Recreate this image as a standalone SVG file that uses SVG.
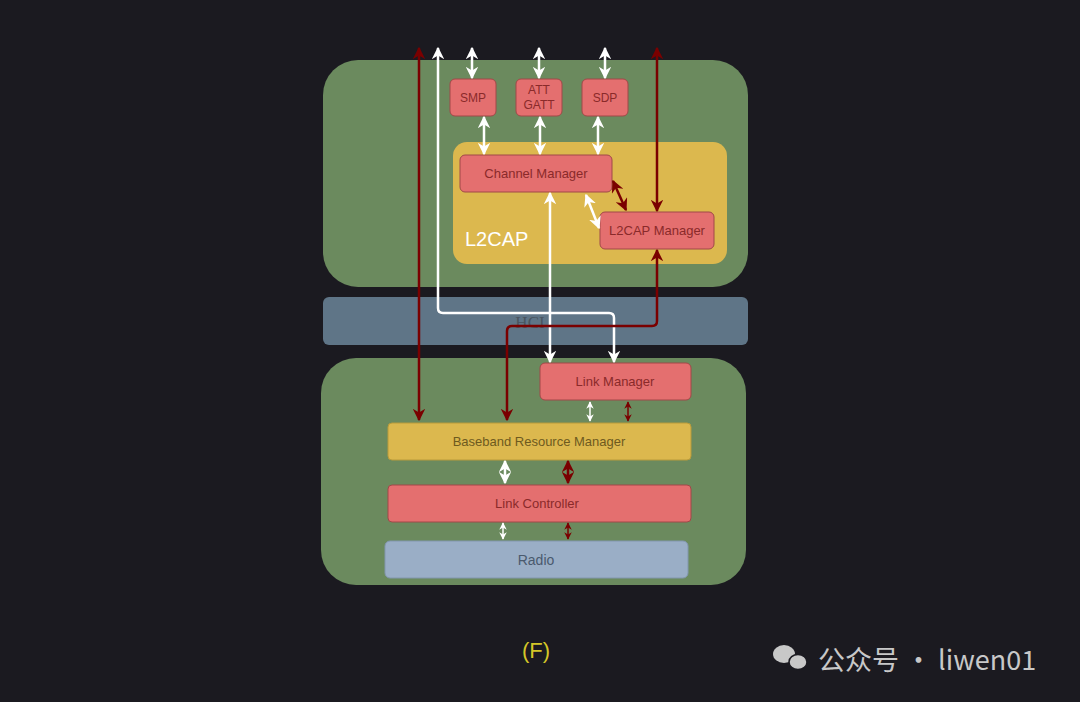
<svg xmlns="http://www.w3.org/2000/svg" width="1080" height="702" viewBox="0 0 1080 702">
<style>
.grn{fill:#6b8a5e}
.red{fill:#e46f6f;stroke:#a04848;stroke-width:1}
.ylw{fill:#dcb84e;stroke:#b89a3a;stroke-width:1}
.t{font-family:"Liberation Sans",Arial,sans-serif;font-size:13px;fill:#8a2a2a;text-anchor:middle;dominant-baseline:central}
.s{font-size:12px}
.w{stroke:#fff;fill:none;stroke-width:2.5}
.d{stroke:#7a0000;fill:none;stroke-width:2.5}
.ws{stroke:#fff;fill:none;stroke-width:1.5}
.ds{stroke:#7a0000;fill:none;stroke-width:1.5}
</style>
<defs>
<marker id="aw" viewBox="0 0 10 10" refX="9" refY="5" markerWidth="5" markerHeight="5" orient="auto-start-reverse" markerUnits="strokeWidth"><path d="M0,0L10,5L0,10L3,5z" fill="#fff"/></marker>
<marker id="ad" viewBox="0 0 10 10" refX="9" refY="5" markerWidth="5" markerHeight="5" orient="auto-start-reverse" markerUnits="strokeWidth"><path d="M0,0L10,5L0,10L3,5z" fill="#7a0000"/></marker>
<marker id="aws" viewBox="0 0 10 10" refX="9" refY="5" markerWidth="5" markerHeight="5" orient="auto-start-reverse" markerUnits="strokeWidth"><path d="M0,0L10,5L0,10L3,5z" fill="#fff"/></marker>
<marker id="ads" viewBox="0 0 10 10" refX="9" refY="5" markerWidth="5" markerHeight="5" orient="auto-start-reverse" markerUnits="strokeWidth"><path d="M0,0L10,5L0,10L3,5z" fill="#7a0000"/></marker>
</defs>
<rect width="1080" height="702" fill="#1b1a20"/>
<g id="host"><rect x="323" y="60" width="425" height="227" rx="35" class="grn"/></g>
<g id="hci"><rect x="323" y="297" width="425" height="48" rx="6" fill="#5f7587"/><text x="530" y="322" font-family="Liberation Serif,serif" font-size="17" fill="#4a5560" text-anchor="middle" dominant-baseline="central">HCI</text></g>
<g id="controller"><rect x="321" y="358" width="425" height="227" rx="35" class="grn"/></g>
<g id="l2cap"><rect x="453" y="142" width="274" height="122" rx="14" fill="#dcb84e"/><text x="465" y="239" font-family="Liberation Sans,Arial,sans-serif" font-size="20" fill="#fff" dominant-baseline="central">L2CAP</text></g>
<g id="smp"><rect x="450" y="79" width="46" height="37" rx="5" class="red"/><text x="473" y="97.5" class="t s">SMP</text></g>
<g id="att"><rect x="516" y="79" width="46" height="37" rx="5" class="red"/><text x="539" y="90" class="t s">ATT</text><text x="539" y="105" class="t s">GATT</text></g>
<g id="sdp"><rect x="582" y="79" width="46" height="37" rx="5" class="red"/><text x="605" y="97.5" class="t s">SDP</text></g>
<g id="chm"><rect x="460" y="155" width="152" height="37" rx="5" class="red"/><text x="536" y="173" class="t">Channel Manager</text></g>
<g id="l2m"><rect x="600" y="212" width="114" height="37" rx="5" class="red"/><text x="657" y="230.5" class="t">L2CAP Manager</text></g>
<g id="lm"><rect x="540" y="363" width="151" height="37" rx="5" class="red"/><text x="615" y="381.5" class="t">Link Manager</text></g>
<g id="brm"><rect x="388" y="423" width="303" height="37" rx="4" class="ylw"/><text x="539" y="441.5" class="t" style="fill:#6e5a1e">Baseband Resource Manager</text></g>
<g id="lc"><rect x="388" y="485" width="303" height="37" rx="4" class="red"/><text x="537" y="503.5" class="t">Link Controller</text></g>
<g id="radio"><rect x="385" y="541" width="303" height="37" rx="5" fill="#9aaec6" stroke="#8296ae"/><text x="536" y="559.5" class="t" style="fill:#4a5a6e;font-size:14px">Radio</text></g>
<g id="connectors">
<line x1="419" y1="48" x2="419" y2="420" class="d" marker-start="url(#ad)" marker-end="url(#ad)"/>
<path d="M438,48 V308 Q438,313 443,313 H609 Q614,313 614,318 V362" class="w" marker-start="url(#aw)" marker-end="url(#aw)"/>
<line x1="550" y1="193" x2="550" y2="362" class="w" marker-start="url(#aw)" marker-end="url(#aw)"/>
<path d="M657,250 V321 Q657,326 652,326 H512 Q507,326 507,331 V420" class="d" marker-start="url(#ad)" marker-end="url(#ad)"/>
<line x1="657" y1="48" x2="657" y2="211" class="d" marker-start="url(#ad)" marker-end="url(#ad)"/>
<line x1="472" y1="48" x2="472" y2="78" class="w" marker-start="url(#aw)" marker-end="url(#aw)"/>
<line x1="539" y1="48" x2="539" y2="78" class="w" marker-start="url(#aw)" marker-end="url(#aw)"/>
<line x1="605" y1="48" x2="605" y2="78" class="w" marker-start="url(#aw)" marker-end="url(#aw)"/>
<line x1="484" y1="117" x2="484" y2="154" class="w" marker-start="url(#aw)" marker-end="url(#aw)"/>
<line x1="540" y1="117" x2="540" y2="154" class="w" marker-start="url(#aw)" marker-end="url(#aw)"/>
<line x1="598" y1="117" x2="598" y2="154" class="w" marker-start="url(#aw)" marker-end="url(#aw)"/>
<line x1="613" y1="181" x2="626" y2="210" class="d" marker-start="url(#ad)" marker-end="url(#ad)"/>
<line x1="586" y1="195" x2="599" y2="228" class="w" marker-start="url(#aw)" marker-end="url(#aw)"/>
<line x1="590" y1="402" x2="590" y2="421" class="ws" marker-start="url(#aws)" marker-end="url(#aws)"/>
<line x1="628" y1="402" x2="628" y2="421" class="ds" marker-start="url(#ads)" marker-end="url(#ads)"/>
<line x1="505" y1="461" x2="505" y2="483" class="w" marker-start="url(#aw)" marker-end="url(#aw)"/>
<line x1="568" y1="461" x2="568" y2="483" class="d" marker-start="url(#ad)" marker-end="url(#ad)"/>
<line x1="503" y1="523" x2="503" y2="539" class="ws" marker-start="url(#aws)" marker-end="url(#aws)"/>
<line x1="568" y1="523" x2="568" y2="539" class="ds" marker-start="url(#ads)" marker-end="url(#ads)"/>
</g>
<text x="536" y="650" font-family="Liberation Sans,Arial,sans-serif" font-size="22" fill="#d4c628" text-anchor="middle" dominant-baseline="central">(F)</text>
<g fill="#c8c8c8"><ellipse cx="784" cy="654" rx="11" ry="9"/><ellipse cx="798" cy="662" rx="9" ry="7.5" stroke="#1b1a20" stroke-width="1.5"/></g>
<text x="818" y="658" font-family="Noto Sans CJK SC,Noto Sans,sans-serif" font-size="27" fill="#c8c8c8" dominant-baseline="central">公众号 · liwen01</text>
</svg>
